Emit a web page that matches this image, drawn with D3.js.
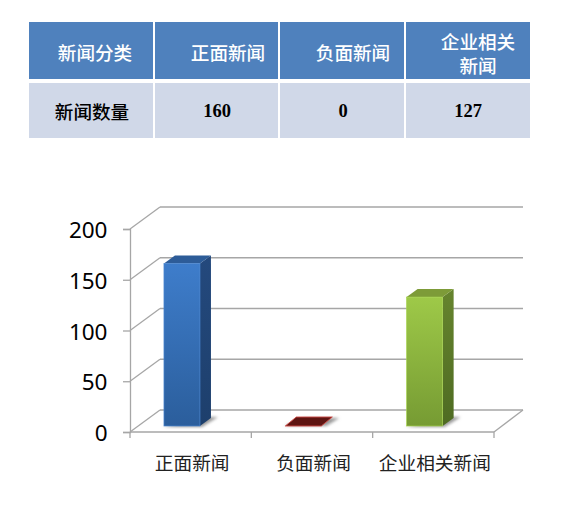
<!DOCTYPE html>
<html>
<head>
<meta charset="utf-8">
<script src="https://cdn.jsdelivr.net/npm/d3@7"></script>
<style>
  html, body { margin: 0; padding: 0; background: #fff; }
  svg { display: block; }
</style>
</head>
<body>
<script>
// data
const categories = ["正面新闻", "负面新闻", "企业相关新闻"];
const values = [160, 0, 127];
const yTicks = [0, 50, 100, 150, 200];
const tableHeader = ["新闻分类", "正面新闻", "负面新闻", ["企业相关", "新闻"]];
const tableRow = ["新闻数量", "160", "0", "127"];

const palette = [
  { front: ["#3e7dcb", "#2b5e9c"], side: ["#24497d", "#1d3f6c"], top: "#2d5c98", edge: "#4a86d0" },
  { front: ["#c0504d", "#c0504d"], side: ["#7a1c18", "#7a1c18"], top: "#5e1512", edge: "#cf4a45" },
  { front: ["#9ec948", "#769b33"], side: ["#66842e", "#4e6b22"], top: "#7d9b38", edge: "#a6d24e" }
];

const width = 571, height = 523;
const svg = d3.select("body").append("svg").attr("width", width).attr("height", height);
const defs = svg.append("defs");

const cjk = "'Noto Sans CJK SC', sans-serif";

// table
const colEdges = [29, 154, 279, 405, 530];
const headTop = 22, headBottom = 79, rowTop = 83, rowBottom = 138;
const headTextX = [95, 228, 353, 478];
const rowTextX = [92, 217, 343, 468];

const table = svg.append("g");
d3.range(4).forEach(i => {
  const x0 = colEdges[i] + (i ? 1 : 0), x1 = colEdges[i + 1] - (i < 3 ? 1 : 0);
  table.append("rect").attr("x", x0).attr("y", headTop)
    .attr("width", x1 - x0).attr("height", headBottom - headTop).attr("fill", "#4f81bd");
  table.append("rect").attr("x", x0).attr("y", rowTop)
    .attr("width", x1 - x0).attr("height", rowBottom - rowTop).attr("fill", "#d0d8e8");

  const head = [].concat(tableHeader[i]);
  const t = table.append("text").attr("fill", "#fff").attr("text-anchor", "middle")
    .style("font-family", cjk).style("font-size", "18.6px").style("font-weight", 500);
  head.forEach((line, j) => {
    t.append("tspan").attr("x", headTextX[i])
      .attr("y", head.length > 1 ? 48.5 + j * 24.5 : 60)
      .text(line);
  });

  const isNum = i > 0;
  table.append("text").attr("x", rowTextX[i]).attr("y", isNum ? 117 : 119)
    .attr("text-anchor", "middle").attr("fill", "#000")
    .style("font-family", isNum ? "'Liberation Serif', serif" : cjk)
    .style("font-size", isNum ? "18.5px" : "18.6px")
    .style("font-weight", isNum ? 700 : 500)
    .text(tableRow[i]);
});

// chart
const depthX = 30, depthY = 22;       // floor depth of the 3d box
const barDepthX = 11, barDepthY = 8;  // depth of one bar
const floorY = 432;

const x = d3.scaleBand().domain(categories).range([130, 494]);
const y = d3.scaleLinear().domain([0, 200]).range([floorY, 229]);
const barWidth = 36, barShiftX = -8.7, barShiftY = -6;

const grid = "#a6a6a6";
const chart = svg.append("g");

// back wall lines and the diagonals on the left wall
chart.selectAll("line.back").data(yTicks).join("line").attr("class", "back")
  .attr("x1", x.range()[0] + depthX).attr("x2", x.range()[1] + depthX - 1)
  .attr("y1", d => y(d) - depthY).attr("y2", d => y(d) - depthY)
  .attr("stroke", grid).attr("stroke-width", 1.3);
chart.selectAll("line.wall").data(yTicks).join("line").attr("class", "wall")
  .attr("x1", x.range()[0]).attr("x2", x.range()[0] + depthX)
  .attr("y1", d => y(d)).attr("y2", d => y(d) - depthY)
  .attr("stroke", grid).attr("stroke-width", 1.2);
// right edge of the floor
chart.append("line")
  .attr("x1", x.range()[1]).attr("y1", floorY)
  .attr("x2", x.range()[1] + depthX - 1).attr("y2", floorY - depthY)
  .attr("stroke", grid).attr("stroke-width", 1.2);

// axes
const yAxis = chart.append("g").attr("transform", `translate(${x.range()[0]},0)`)
  .call(d3.axisLeft(y).tickValues(yTicks).tickSize(7).tickPadding(15.5));
yAxis.selectAll("text").attr("fill", "#000").attr("dy", "0.38em")
  .style("font-family", "'Noto Sans', sans-serif").style("font-size", "22.5px");

const xAxis = chart.append("g").attr("transform", `translate(0,${floorY})`)
  .call(d3.axisBottom(x).tickValues([]).tickSizeOuter(0));
xAxis.selectAll("line.edge").data(d3.range(4)).join("line").attr("class", "edge")
  .attr("x1", i => x.range()[0] + i * x.step()).attr("x2", i => x.range()[0] + i * x.step())
  .attr("y1", 0).attr("y2", 6);
chart.selectAll("g path.domain, g line").attr("stroke", grid).attr("stroke-width", 1.3);
xAxis.select("path.domain").attr("d", `M${x.range()[0]},0H${x.range()[1]}`);

xAxis.selectAll("text.cat").data(categories).join("text").attr("class", "cat")
  .attr("x", d => x(d) + x.bandwidth() / 2 + 1.5).attr("y", 38)
  .attr("text-anchor", "middle").attr("fill", "#222")
  .style("font-family", cjk).style("font-size", "18.7px")
  .text(d => d);

// bars
defs.append("filter").attr("id", "soft").attr("x", "-50%").attr("y", "-50%")
  .attr("width", "200%").attr("height", "200%")
  .append("feGaussianBlur").attr("stdDeviation", 1.6);

categories.forEach((c, i) => {
  const col = palette[i];
  ["front", "side"].forEach(part => {
    const g = defs.append("linearGradient").attr("id", `${part}${i}`)
      .attr("x1", 0).attr("y1", 0).attr("x2", 0).attr("y2", 1);
    g.append("stop").attr("offset", 0).attr("stop-color", col[part][0]);
    g.append("stop").attr("offset", 1).attr("stop-color", col[part][1]);
  });
});

const bars = chart.selectAll("g.bar").data(categories).join("g").attr("class", "bar");

bars.each(function (c, i) {
  const g = d3.select(this), col = palette[i];
  const x0 = x(c) + x.bandwidth() / 2 - barWidth / 2 + barShiftX;
  const x1 = x0 + barWidth;
  const y0 = y(0) + barShiftY;
  const yv = y(values[i]) + barShiftY;
  const poly = pts => pts.map(p => p.join(",")).join(" ");
  const dx = barDepthX, dy = barDepthY;

  // floor shadow
  g.append("polygon")
    .attr("points", poly(i === 1
      ? [[x0 - 1, y0], [x1 + 5, y0], [x1 + dx + 7, y0 - dy], [x0 + dx + 8, y0 - dy]]
      : [[x0 - 1, y0 + 1], [x1 + 2, y0 + 1], [x1 + dx + 7, y0 - dy - 1], [x1 + dx - 2, y0 - dy - 1]]))
    .attr("fill", "#9a9a9a").attr("filter", "url(#soft)");

  if (values[i] === 0) {
    g.append("polygon")
      .attr("points", poly([[x0, y0], [x1, y0], [x1 + dx, y0 - dy - 1], [x0 + dx, y0 - dy - 1]]))
      .attr("fill", col.top).attr("stroke", col.edge).attr("stroke-width", 0.9);
    return;
  }
  g.append("polygon")
    .attr("points", poly([[x1, yv], [x1 + dx, yv - dy], [x1 + dx, y0 - dy], [x1, y0]]))
    .attr("fill", `url(#side${i})`);
  g.append("polygon")
    .attr("points", poly([[x0, yv], [x0 + dx, yv - dy], [x1 + dx, yv - dy], [x1, yv]]))
    .attr("fill", col.top);
  g.append("rect").attr("x", x0).attr("y", yv)
    .attr("width", barWidth).attr("height", y0 - yv)
    .attr("fill", `url(#front${i})`)
    .attr("stroke", col.edge).attr("stroke-width", 0.7);
});
</script>
</body>
</html>
